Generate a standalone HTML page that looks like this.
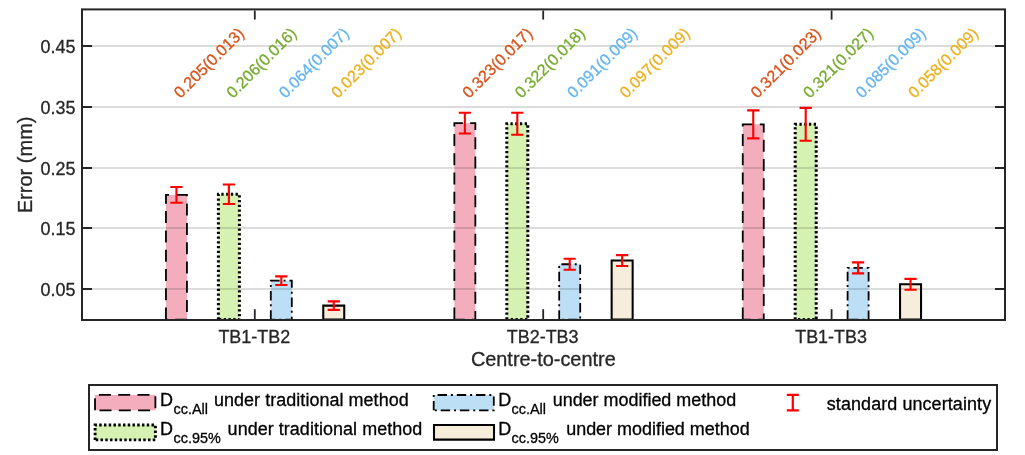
<!DOCTYPE html><html><head><meta charset="utf-8"><title>Error chart</title><style>html,body{margin:0;padding:0;background:#fff;}svg{display:block;}text{font-family:'Liberation Sans', Arial, Helvetica, sans-serif;}</style></head><body>
<svg width="1025" height="455" viewBox="0 0 1025 455">
<rect x="0" y="0" width="1025" height="455" fill="#fff"/>
<rect x="165.95" y="194.90" width="21.00" height="124.70" fill="#F4ADBD"/>
<path d="M165.95 319.60 V194.90 H186.95 V319.60 Z" fill="none" stroke="#000" stroke-width="1.80" stroke-dasharray="12 7.3"/>
<rect x="218.40" y="194.29" width="21.00" height="125.31" fill="#D6F2B2"/>
<path d="M218.40 319.60 V194.29 H239.40 V319.60 Z" fill="none" stroke="#000" stroke-width="3.00" stroke-dasharray="2.3 2.45"/>
<rect x="270.80" y="280.67" width="21.00" height="38.93" fill="#BCDFF6"/>
<path d="M270.80 319.60 V280.67 H291.80 V319.60 Z" fill="none" stroke="#000" stroke-width="1.80" stroke-dasharray="9.4 3.9 2 3.9"/>
<rect x="323.25" y="305.61" width="21.00" height="13.99" fill="#F6EDDA"/>
<path d="M323.25 319.60 V305.61 H344.25 V319.60 Z" fill="none" stroke="#000" stroke-width="2.05"/>
<rect x="454.35" y="123.12" width="21.00" height="196.48" fill="#F4ADBD"/>
<path d="M454.35 319.60 V123.12 H475.35 V319.60 Z" fill="none" stroke="#000" stroke-width="1.80" stroke-dasharray="12 7.3"/>
<rect x="506.80" y="123.73" width="21.00" height="195.87" fill="#D6F2B2"/>
<path d="M506.80 319.60 V123.73 H527.80 V319.60 Z" fill="none" stroke="#000" stroke-width="3.00" stroke-dasharray="2.3 2.45"/>
<rect x="559.20" y="264.24" width="21.00" height="55.36" fill="#BCDFF6"/>
<path d="M559.20 319.60 V264.24 H580.20 V319.60 Z" fill="none" stroke="#000" stroke-width="1.80" stroke-dasharray="9.4 3.9 2 3.9"/>
<rect x="611.65" y="260.59" width="21.00" height="59.01" fill="#F6EDDA"/>
<path d="M611.65 319.60 V260.59 H632.65 V319.60 Z" fill="none" stroke="#000" stroke-width="2.05"/>
<rect x="742.75" y="124.34" width="21.00" height="195.26" fill="#F4ADBD"/>
<path d="M742.75 319.60 V124.34 H763.75 V319.60 Z" fill="none" stroke="#000" stroke-width="1.80" stroke-dasharray="12 7.3"/>
<rect x="795.20" y="124.34" width="21.00" height="195.26" fill="#D6F2B2"/>
<path d="M795.20 319.60 V124.34 H816.20 V319.60 Z" fill="none" stroke="#000" stroke-width="3.00" stroke-dasharray="2.3 2.45"/>
<rect x="847.60" y="267.89" width="21.00" height="51.71" fill="#BCDFF6"/>
<path d="M847.60 319.60 V267.89 H868.60 V319.60 Z" fill="none" stroke="#000" stroke-width="1.80" stroke-dasharray="9.4 3.9 2 3.9"/>
<rect x="900.05" y="284.32" width="21.00" height="35.28" fill="#F6EDDA"/>
<path d="M900.05 319.60 V284.32 H921.05 V319.60 Z" fill="none" stroke="#000" stroke-width="2.05"/>
<line x1="83" y1="289.00" x2="1004" y2="289.00" stroke="#262626" stroke-opacity="0.16" stroke-width="2"/>
<line x1="83" y1="228.00" x2="1004" y2="228.00" stroke="#262626" stroke-opacity="0.16" stroke-width="2"/>
<line x1="83" y1="168.00" x2="1004" y2="168.00" stroke="#262626" stroke-opacity="0.16" stroke-width="2"/>
<line x1="83" y1="107.00" x2="1004" y2="107.00" stroke="#262626" stroke-opacity="0.16" stroke-width="2"/>
<line x1="83" y1="46.00" x2="1004" y2="46.00" stroke="#262626" stroke-opacity="0.16" stroke-width="2"/>
<path d="M176.45 186.99 V202.81 M170.35 186.99 H182.55 M170.35 202.81 H182.55" stroke="#FF0000" stroke-width="2.1" fill="none"/>
<path d="M228.90 184.56 V204.02 M222.80 184.56 H235.00 M222.80 204.02 H235.00" stroke="#FF0000" stroke-width="2.1" fill="none"/>
<path d="M281.30 276.41 V284.93 M275.20 276.41 H287.40 M275.20 284.93 H287.40" stroke="#FF0000" stroke-width="2.1" fill="none"/>
<path d="M333.75 301.35 V309.87 M327.65 301.35 H339.85 M327.65 309.87 H339.85" stroke="#FF0000" stroke-width="2.1" fill="none"/>
<path d="M464.85 112.78 V133.46 M458.75 112.78 H470.95 M458.75 133.46 H470.95" stroke="#FF0000" stroke-width="2.1" fill="none"/>
<path d="M517.30 112.78 V134.68 M511.20 112.78 H523.40 M511.20 134.68 H523.40" stroke="#FF0000" stroke-width="2.1" fill="none"/>
<path d="M569.70 258.77 V269.72 M563.60 258.77 H575.80 M563.60 269.72 H575.80" stroke="#FF0000" stroke-width="2.1" fill="none"/>
<path d="M622.15 255.12 V266.07 M616.05 255.12 H628.25 M616.05 266.07 H628.25" stroke="#FF0000" stroke-width="2.1" fill="none"/>
<path d="M753.25 110.34 V138.33 M747.15 110.34 H759.35 M747.15 138.33 H759.35" stroke="#FF0000" stroke-width="2.1" fill="none"/>
<path d="M805.70 107.91 V140.76 M799.60 107.91 H811.80 M799.60 140.76 H811.80" stroke="#FF0000" stroke-width="2.1" fill="none"/>
<path d="M858.10 262.42 V273.37 M852.00 262.42 H864.20 M852.00 273.37 H864.20" stroke="#FF0000" stroke-width="2.1" fill="none"/>
<path d="M910.55 278.84 V289.79 M904.45 278.84 H916.65 M904.45 289.79 H916.65" stroke="#FF0000" stroke-width="2.1" fill="none"/>
<rect x="82" y="9.4" width="923" height="310.6" fill="none" stroke="#262626" stroke-width="2"/>
<line x1="83" y1="289.00" x2="92" y2="289.00" stroke="#262626" stroke-width="2"/>
<line x1="995" y1="289.00" x2="1004" y2="289.00" stroke="#262626" stroke-width="2"/>
<text x="75.4" y="296.30" font-size="17.95" text-anchor="end" fill="#262626" stroke="#262626" stroke-width="0.30">0.05</text>
<line x1="83" y1="228.00" x2="92" y2="228.00" stroke="#262626" stroke-width="2"/>
<line x1="995" y1="228.00" x2="1004" y2="228.00" stroke="#262626" stroke-width="2"/>
<text x="75.4" y="235.30" font-size="17.95" text-anchor="end" fill="#262626" stroke="#262626" stroke-width="0.30">0.15</text>
<line x1="83" y1="168.00" x2="92" y2="168.00" stroke="#262626" stroke-width="2"/>
<line x1="995" y1="168.00" x2="1004" y2="168.00" stroke="#262626" stroke-width="2"/>
<text x="75.4" y="175.30" font-size="17.95" text-anchor="end" fill="#262626" stroke="#262626" stroke-width="0.30">0.25</text>
<line x1="83" y1="107.00" x2="92" y2="107.00" stroke="#262626" stroke-width="2"/>
<line x1="995" y1="107.00" x2="1004" y2="107.00" stroke="#262626" stroke-width="2"/>
<text x="75.4" y="114.30" font-size="17.95" text-anchor="end" fill="#262626" stroke="#262626" stroke-width="0.30">0.35</text>
<line x1="83" y1="46.00" x2="92" y2="46.00" stroke="#262626" stroke-width="2"/>
<line x1="995" y1="46.00" x2="1004" y2="46.00" stroke="#262626" stroke-width="2"/>
<text x="75.4" y="53.30" font-size="17.95" text-anchor="end" fill="#262626" stroke="#262626" stroke-width="0.30">0.45</text>
<line x1="254.80" y1="319" x2="254.80" y2="309.2" stroke="#262626" stroke-width="1.8"/>
<line x1="254.80" y1="10.5" x2="254.80" y2="19.6" stroke="#262626" stroke-width="1.8"/>
<text x="254.30" y="342.8" font-size="17.95" text-anchor="middle" fill="#262626" stroke="#262626" stroke-width="0.30">TB1-TB2</text>
<line x1="543.20" y1="319" x2="543.20" y2="309.2" stroke="#262626" stroke-width="1.8"/>
<line x1="543.20" y1="10.5" x2="543.20" y2="19.6" stroke="#262626" stroke-width="1.8"/>
<text x="542.70" y="342.8" font-size="17.95" text-anchor="middle" fill="#262626" stroke="#262626" stroke-width="0.30">TB2-TB3</text>
<line x1="831.60" y1="319" x2="831.60" y2="309.2" stroke="#262626" stroke-width="1.8"/>
<line x1="831.60" y1="10.5" x2="831.60" y2="19.6" stroke="#262626" stroke-width="1.8"/>
<text x="831.10" y="342.8" font-size="17.95" text-anchor="middle" fill="#262626" stroke="#262626" stroke-width="0.30">TB1-TB3</text>
<text x="543.3" y="366.2" font-size="19.9" text-anchor="middle" fill="#262626" stroke="#262626" stroke-width="0.30">Centre-to-centre</text>
<text transform="translate(31.6 164.9) rotate(-90)" x="0" y="0" font-size="20.05" text-anchor="middle" fill="#262626" stroke="#262626" stroke-width="0.30">Error (mm)</text>
<text transform="translate(180.55 98.9) rotate(-45)" font-size="16.1" fill="#D95319" stroke="#D95319" stroke-width="0.30">0.205(0.013)</text>
<text transform="translate(233.00 98.9) rotate(-45)" font-size="16.1" fill="#77AC30" stroke="#77AC30" stroke-width="0.30">0.206(0.016)</text>
<text transform="translate(285.40 98.9) rotate(-45)" font-size="16.1" fill="#64B5EE" stroke="#64B5EE" stroke-width="0.30">0.064(0.007)</text>
<text transform="translate(337.85 98.9) rotate(-45)" font-size="16.1" fill="#EDB120" stroke="#EDB120" stroke-width="0.30">0.023(0.007)</text>
<text transform="translate(468.95 98.9) rotate(-45)" font-size="16.1" fill="#D95319" stroke="#D95319" stroke-width="0.30">0.323(0.017)</text>
<text transform="translate(521.40 98.9) rotate(-45)" font-size="16.1" fill="#77AC30" stroke="#77AC30" stroke-width="0.30">0.322(0.018)</text>
<text transform="translate(573.80 98.9) rotate(-45)" font-size="16.1" fill="#64B5EE" stroke="#64B5EE" stroke-width="0.30">0.091(0.009)</text>
<text transform="translate(626.25 98.9) rotate(-45)" font-size="16.1" fill="#EDB120" stroke="#EDB120" stroke-width="0.30">0.097(0.009)</text>
<text transform="translate(757.35 98.9) rotate(-45)" font-size="16.1" fill="#D95319" stroke="#D95319" stroke-width="0.30">0.321(0.023)</text>
<text transform="translate(809.80 98.9) rotate(-45)" font-size="16.1" fill="#77AC30" stroke="#77AC30" stroke-width="0.30">0.321(0.027)</text>
<text transform="translate(862.20 98.9) rotate(-45)" font-size="16.1" fill="#64B5EE" stroke="#64B5EE" stroke-width="0.30">0.085(0.009)</text>
<text transform="translate(914.65 98.9) rotate(-45)" font-size="16.1" fill="#EDB120" stroke="#EDB120" stroke-width="0.30">0.058(0.009)</text>
<rect x="89" y="385" width="908" height="65" fill="#fff" stroke="#262626" stroke-width="2"/>
<rect x="95.00" y="394.90" width="60.40" height="15.40" fill="#F4ADBD"/><path d="M95.00 410.30 V394.90 H155.40 V410.30 Z" fill="none" stroke="#000" stroke-width="1.80" stroke-dasharray="12 7.3"/>
<rect x="95.10" y="425.00" width="60.30" height="14.90" fill="#D6F2B2"/><path d="M95.10 439.90 V425.00 H155.40 V439.90 Z" fill="none" stroke="#000" stroke-width="2.90" stroke-dasharray="2.5 2.25"/>
<rect x="433.70" y="395.00" width="60.10" height="15.30" fill="#BCDFF6"/><path d="M433.70 410.30 V395.00 H493.80 V410.30 Z" fill="none" stroke="#000" stroke-width="1.80" stroke-dasharray="9.4 3.9 2 3.9"/>
<rect x="434.00" y="425.00" width="60.00" height="14.60" fill="#F6EDDA"/><path d="M434.00 439.60 V425.00 H494.00 V439.60 Z" fill="none" stroke="#000" stroke-width="2.05"/>
<text x="160.00" y="405.80" font-size="17.95" fill="#000" stroke="#000" stroke-width="0.30">D</text><text x="173.60" y="413.80" font-size="14.4" fill="#000" stroke="#000" stroke-width="0.30">cc.All</text><text x="214.00" y="405.80" font-size="17.95" textLength="194.70" fill="#000" stroke="#000" stroke-width="0.30">under traditional method</text>
<text x="160.00" y="434.80" font-size="17.95" fill="#000" stroke="#000" stroke-width="0.30">D</text><text x="173.60" y="442.80" font-size="14.4" fill="#000" stroke="#000" stroke-width="0.30">cc.95%</text><text x="227.60" y="434.80" font-size="17.95" textLength="194.70" fill="#000" stroke="#000" stroke-width="0.30">under traditional method</text>
<text x="498.30" y="405.80" font-size="17.95" fill="#000" stroke="#000" stroke-width="0.30">D</text><text x="511.60" y="413.80" font-size="14.4" fill="#000" stroke="#000" stroke-width="0.30">cc.All</text><text x="552.70" y="405.80" font-size="17.95" fill="#000" stroke="#000" stroke-width="0.30">under modified method</text>
<text x="498.30" y="434.80" font-size="17.95" fill="#000" stroke="#000" stroke-width="0.30">D</text><text x="511.60" y="442.80" font-size="14.4" fill="#000" stroke="#000" stroke-width="0.30">cc.95%</text><text x="566.20" y="434.80" font-size="17.95" fill="#000" stroke="#000" stroke-width="0.30">under modified method</text>
<path d="M792.80 394.9 V410.3 M786.80 394.9 H798.80 M786.80 410.3 H798.80" stroke="#FF0000" stroke-width="2.2" fill="none"/>
<text x="826.8" y="410.3" font-size="17.95" textLength="164.3" fill="#000" stroke="#000" stroke-width="0.30">standard uncertainty</text>
</svg></body></html>
